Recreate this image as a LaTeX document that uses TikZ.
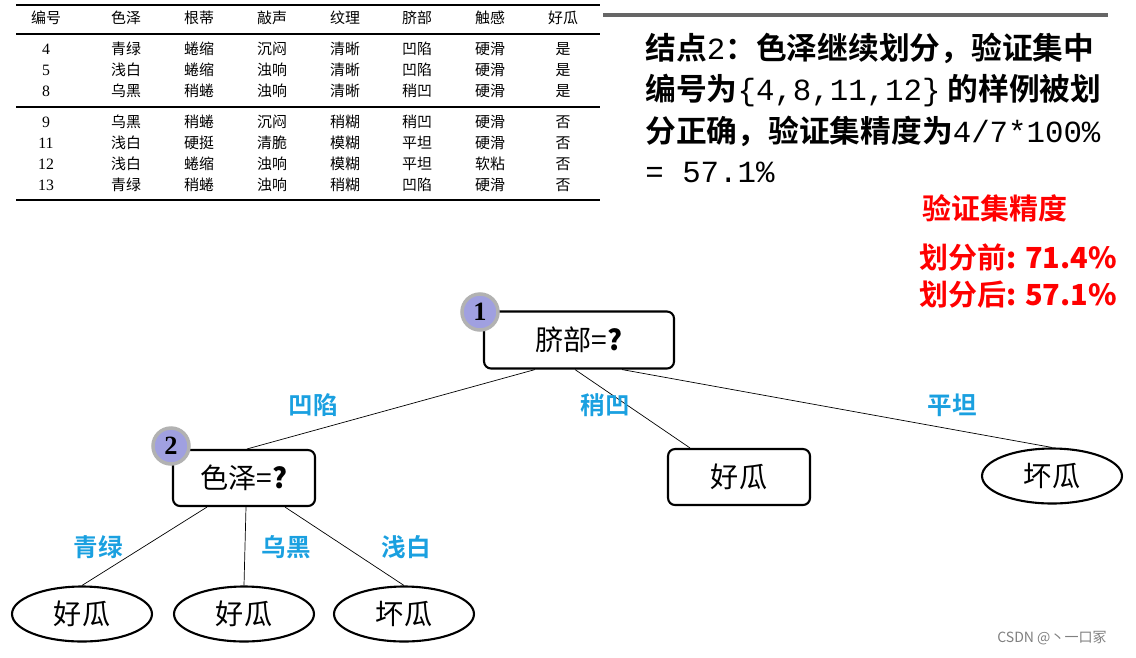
\documentclass[tikz,border=0pt]{standalone}
\usepackage{fontspec}
\setmainfont{Liberation Serif}
\newfontfamily\cjk{Noto Sans CJK SC}
\newfontfamily\cjkb{Noto Sans CJK SC Bold}
\newfontfamily\mono{Liberation Mono}
\usetikzlibrary{calc,shapes.geometric}
\definecolor{lblue}{HTML}{1AA0E0}
\definecolor{badge}{HTML}{A0A0E0}
\begin{document}
\begin{tikzpicture}[x=0.02cm,y=-0.02cm,
  tb/.style={font=\cjk\fontsize{8.5}{9}\selectfont,inner sep=0pt},
  box/.style={draw,very thick,rounded corners=4pt,minimum width=3.8cm,minimum height=1.14cm,font=\cjk\fontsize{16}{18}\selectfont},
  sbox/.style={box,minimum width=2.84cm,minimum height=1.12cm},
  leaf/.style={draw,very thick,ellipse,minimum width=2.8cm,minimum height=1.1cm,font=\cjk\fontsize{16}{18}\selectfont},
  bdg/.style={circle,draw=gray!60,line width=2pt,fill=badge,minimum size=0.72cm,inner sep=0pt,font=\bfseries\fontsize{15}{16}\selectfont},
  lab/.style={text=lblue,font=\cjkb\fontsize{14}{16}\selectfont},
  rt/.style={anchor=west,font=\cjkb\fontsize{17.5}{19}\selectfont,inner sep=0pt},
  red/.style={text=red,font=\cjkb\fontsize{16.5}{18}\selectfont}]
\useasboundingbox (0,0) rectangle (1136,657);
% table
\draw[line width=1pt] (16,5) -- (600,5);
\draw[line width=0.6pt] (16,34) -- (600,34);
\draw[line width=0.8pt] (16,107) -- (600,107);
\draw[line width=1pt] (16,200) -- (600,200);
\foreach \x/\t in {46/编号,126/色泽,199/根蒂,272/敲声,345/纹理,417/脐部,490/触感,563/好瓜}
  \node[tb] (h\x) at (\x,18) {\t};
\foreach \y/\a/\b/\c/\d/\e/\f/\g/\h in {49/4/青绿/蜷缩/沉闷/清晰/凹陷/硬滑/是,70/5/浅白/蜷缩/浊响/清晰/凹陷/硬滑/是,91/8/乌黑/稍蜷/浊响/清晰/稍凹/硬滑/是,122/9/乌黑/稍蜷/沉闷/稍糊/稍凹/硬滑/否,143/11/浅白/硬挺/清脆/模糊/平坦/硬滑/否,164/12/浅白/蜷缩/浊响/模糊/平坦/软粘/否,185/13/青绿/稍蜷/浊响/稍糊/凹陷/硬滑/否}{
  \node[tb,font=\fontsize{9}{9}\selectfont] (r\y a) at (46,\y) {\a};
  \node[tb] (r\y b) at (126,\y) {\b};
  \node[tb] (r\y c) at (199,\y) {\c};
  \node[tb] (r\y d) at (272,\y) {\d};
  \node[tb] (r\y e) at (345,\y) {\e};
  \node[tb] (r\y f) at (417,\y) {\f};
  \node[tb] (r\y g) at (490,\y) {\g};
  \node[tb] (r\y h) at (563,\y) {\h};
}
\draw[gray!80!black,line width=2.8pt] (603,15) -- (1108,15);
% right text
\node[rt] (t1) at (645,48) {结点{\mono 2}：色泽继续划分，验证集中};
\node[rt] (t2) at (645,90) {编号为{\mono\{4,8,11,12\}} 的样例被划};
\node[rt] (t3) at (645,131) {分正确，验证集精度为{\mono 4/7*100\%}};
\node[rt] (t4) at (645,172) {\mono = 57.1\%};
\node[red] (v0) at (995,208) {验证集精度};
\node[red] (v1) at (1018,257) {划分前{\bfseries: 71.4\%}};
\node[red] (v2) at (1018,295) {划分后{\bfseries: 57.1\%}};
% tree
\node[box] (n1) at (579,340) {脐部=\textbf{?}};
\node[bdg] (b1) at (480,312) {1};
\node[sbox] (n2) at (244,478) {色泽=\textbf{?}};
\node[bdg] (b2) at (171,446) {2};
\node[sbox] (g1) at (739,477) {好瓜};
\node[leaf] (bad1) at (1052,476) {坏瓜};
\node[leaf] (l1) at (82,614) {好瓜};
\node[leaf] (l2) at (244,614) {好瓜};
\node[leaf] (l3) at (404,614) {坏瓜};
\draw ($(n1.south)+(-44,0)$) -- ($(n2.north)+(3,0)$);
\draw ($(n1.south)+(-4,0)$) -- ($(g1.north)+(-49,0)$);
\draw ($(n1.south)+(43,0)$) -- (bad1.north);
\draw ($(n2.south)+(-37,0)$) -- (l1.north);
\draw ($(n2.south)+(2,0)$) -- (l2.north);
\draw ($(n2.south)+(41,0)$) -- (l3.north);
\node[lab] (e1) at (313,405) {凹陷};
\node[lab] (e2) at (605,405) {稍凹};
\node[lab] (e3) at (952,405) {平坦};
\node[lab] (e4) at (98,547) {青绿};
\node[lab] (e5) at (286,547) {乌黑};
\node[lab] (e6) at (406,547) {浅白};
\node[text=gray,font=\cjk\fontsize{8}{9}\selectfont] (wm) at (1052,638) {CSDN @丶一口冢};
\end{tikzpicture}
\end{document}
